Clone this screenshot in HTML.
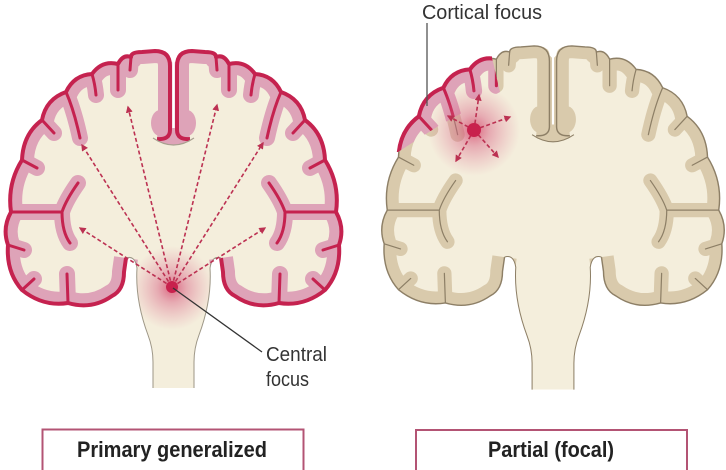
<!DOCTYPE html>
<html><head><meta charset="utf-8"><style>
html,body{margin:0;padding:0;background:#fff;}
svg{display:block;}
text{font-family:"Liberation Sans",Arial,sans-serif;}
</style></head><body>
<svg width="726" height="470" viewBox="0 0 726 470" xmlns="http://www.w3.org/2000/svg" xmlns:xlink="http://www.w3.org/1999/xlink">
<defs>
<path id="E" d="M157,139 Q170,140 170,130 L170,66 Q170,51 155,51 L142,52 Q131,52 131,57 Q123,54 118,64 Q102,60 92,74 Q74,75 66,92 Q46,99 42,120 Q23,134 22,160 Q7,184 11,212 Q2,228 8,245 Q6,272 22,290 Q43,307 68,303 Q92,310 112,296 Q124,290 124,272 L126,258"/>
<path id="SUL" d="M131,57 L130,70 M118,64 L118,90 M92,74 Q95,84 96,95 M66,92 Q74,110 80,138 M42,120 L54,133 M22,160 L37,168 M11,212 L62,212 M78,183 Q66,200 62,212 Q62,232 70,243 M8,245 L24,250 M22,290 L34,279 M68,303 L67,274"/>
<path id="STEMO" d="M126,258 Q135,255 137,268 Q135,300 148,335 Q153,348 153,362 L153,388"/>
<clipPath id="sil" clipPathUnits="userSpaceOnUse">
<path d="M173.5,64 L170,60 Q170,51 155,51 L142,52 Q131,52 131,57 Q123,54 118,64 Q102,60 92,74 Q74,75 66,92 Q46,99 42,120 Q23,134 22,160 Q7,184 11,212 Q2,228 8,245 Q6,272 22,290 Q43,307 68,303 Q92,310 112,296 Q124,290 124,272 L126,258 L140,250 L173.5,250 Z"/>
<path transform="matrix(-1 0 0 1 347 0)" d="M173.5,64 L170,60 Q170,51 155,51 L142,52 Q131,52 131,57 Q123,54 118,64 Q102,60 92,74 Q74,75 66,92 Q46,99 42,120 Q23,134 22,160 Q7,184 11,212 Q2,228 8,245 Q6,272 22,290 Q43,307 68,303 Q92,310 112,296 Q124,290 124,272 L126,258 L140,250 L173.5,250 Z"/>
<path d="M118,250 L126,258 Q135,255 137,268 Q135,300 148,335 Q153,348 153,362 L153,388 L194,388 L194,362 Q194,348 199,335 Q212,300 210,268 Q212,255 221,258 L229,250 Z"/>
</clipPath>
<clipPath id="focusRegion" clipPathUnits="userSpaceOnUse">
<polygon points="370,0 492,0 492,58 500,92 440,125 398,152 370,152"/>
</clipPath>
<radialGradient id="glow">
<stop offset="0" stop-color="#d2365f" stop-opacity="0.75"/>
<stop offset="0.35" stop-color="#d65a80" stop-opacity="0.45"/>
<stop offset="1" stop-color="#e07a9a" stop-opacity="0"/>
</radialGradient>
<marker id="ah" viewBox="0 0 10 10" refX="8" refY="5" markerWidth="7" markerHeight="7" orient="auto" markerUnits="userSpaceOnUse">
<path d="M0,0 L10,5 L0,10 z" fill="#bc3152"/>
</marker>
</defs>

<!-- LEFT BRAIN -->
<g>
  <g clip-path="url(#sil)">
    <rect x="0" y="40" width="347" height="360" fill="#f4eedc"/>
    <g fill="none" stroke="#dea3b8" stroke-width="24" stroke-linejoin="round">
      <use xlink:href="#E"/><use xlink:href="#E" transform="matrix(-1 0 0 1 347 0)"/>
    </g>
    <ellipse cx="160" cy="123" rx="9" ry="13" fill="#dea3b8"/>
    <ellipse cx="187" cy="123" rx="9" ry="13" fill="#dea3b8"/>
    <path d="M152,138 Q173.5,152 195,138 L195,175 L152,175 Z" fill="#f4eedc"/>
    <g fill="none" stroke="#dea3b8" stroke-width="16" stroke-linecap="round">
      <use xlink:href="#SUL"/><use xlink:href="#SUL" transform="matrix(-1 0 0 1 347 0)"/>
    </g>
    <g fill="none" stroke="#c5224f" stroke-width="3" stroke-linecap="round">
      <use xlink:href="#SUL"/><use xlink:href="#SUL" transform="matrix(-1 0 0 1 347 0)"/>
    </g>
    <circle cx="172" cy="288" r="42" fill="url(#glow)"/>
  </g>
  <g fill="none" stroke="#c5224f" stroke-width="4" stroke-linejoin="round">
    <use xlink:href="#E"/><use xlink:href="#E" transform="matrix(-1 0 0 1 347 0)"/>
  </g>
  <line x1="173.5" y1="50" x2="173.5" y2="128" stroke="#fff" stroke-width="2.5"/>
  <path d="M153,138 Q173.5,152 194,138" fill="none" stroke="#a89f8f" stroke-width="1.2"/>
  <g fill="none" stroke="#9d9686" stroke-width="1">
    <use xlink:href="#STEMO"/><use xlink:href="#STEMO" transform="matrix(-1 0 0 1 347 0)"/>
  </g>
</g>

<!-- RIGHT BRAIN -->
<g transform="matrix(1.02 0 0 1.02 376.03 -6.1)">
  <g clip-path="url(#sil)">
    <rect x="0" y="40" width="347" height="360" fill="#f4eedc"/>
    <g fill="none" stroke="#d9caac" stroke-width="24" stroke-linejoin="round">
      <use xlink:href="#E"/><use xlink:href="#E" transform="matrix(-1 0 0 1 347 0)"/>
    </g>
    <ellipse cx="160" cy="123" rx="9" ry="13" fill="#d9caac"/>
    <ellipse cx="187" cy="123" rx="9" ry="13" fill="#d9caac"/>
    <path d="M152,138 Q173.5,152 195,138 L195,175 L152,175 Z" fill="#f4eedc"/>
    <g fill="none" stroke="#d9caac" stroke-width="14" stroke-linecap="round">
      <use xlink:href="#SUL"/><use xlink:href="#SUL" transform="matrix(-1 0 0 1 347 0)"/>
    </g>
    <g fill="none" stroke="#8d7f66" stroke-width="1.2" stroke-linecap="round">
      <use xlink:href="#SUL"/><use xlink:href="#SUL" transform="matrix(-1 0 0 1 347 0)"/>
    </g>
  </g>
  <g fill="none" stroke="#8d7f66" stroke-width="1.4" stroke-linejoin="round">
    <use xlink:href="#E"/><use xlink:href="#E" transform="matrix(-1 0 0 1 347 0)"/>
  </g>
  <line x1="173.5" y1="50" x2="173.5" y2="128" stroke="#fff" stroke-width="2"/>
  <path d="M153,138 Q173.5,152 194,138" fill="none" stroke="#8d7f66" stroke-width="1"/>
  <g fill="none" stroke="#8d7f66" stroke-width="1">
    <use xlink:href="#STEMO"/><use xlink:href="#STEMO" transform="matrix(-1 0 0 1 347 0)"/>
  </g>
</g>

<!-- RIGHT BRAIN pink focal region -->
<g clip-path="url(#focusRegion)">
  <g transform="matrix(1.02 0 0 1.02 376.03 -6.1)">
    <g clip-path="url(#sil)">
      <g fill="none" stroke="#dea3b8" stroke-width="24" stroke-linejoin="round">
        <use xlink:href="#E"/>
      </g>
      <g fill="none" stroke="#dea3b8" stroke-width="16" stroke-linecap="round">
        <use xlink:href="#SUL"/>
      </g>
      <g fill="none" stroke="#c5224f" stroke-width="3" stroke-linecap="round">
        <use xlink:href="#SUL"/>
      </g>
    </g>
    <g fill="none" stroke="#c5224f" stroke-width="4" stroke-linejoin="round">
      <use xlink:href="#E"/>
    </g>
  </g>
</g>
<circle cx="474" cy="130" r="46" fill="url(#glow)"/>

<!-- arrows left -->
<g stroke="#bc3152" stroke-width="1.6" stroke-dasharray="4 2.5" fill="none" marker-end="url(#ah)">
  <line x1="172" y1="287" x2="80" y2="228"/>
  <line x1="172" y1="287" x2="82" y2="145"/>
  <line x1="172" y1="287" x2="128" y2="107"/>
  <line x1="172" y1="287" x2="217" y2="105"/>
  <line x1="172" y1="287" x2="263" y2="143"/>
  <line x1="172" y1="287" x2="265" y2="228"/>
</g>
<!-- arrows right -->
<g stroke="#bc3152" stroke-width="1.6" stroke-dasharray="4 2.5" fill="none" marker-end="url(#ah)">
  <line x1="474" y1="130" x2="479" y2="95"/>
  <line x1="474" y1="130" x2="510" y2="117"/>
  <line x1="474" y1="130" x2="498" y2="157"/>
  <line x1="474" y1="130" x2="456" y2="161"/>
  <line x1="474" y1="130" x2="448" y2="116"/>
</g>

<circle cx="172" cy="287" r="6" fill="#c8214d"/>
<circle cx="474" cy="130" r="7" fill="#c8214d"/>

<!-- connectors -->
<line x1="173" y1="288" x2="262" y2="352" stroke="#333" stroke-width="1.3"/>
<line x1="427" y1="23" x2="427" y2="106" stroke="#555" stroke-width="1.3"/>

<!-- labels -->
<text x="422" y="19" font-size="20" fill="#333" textLength="120" lengthAdjust="spacingAndGlyphs">Cortical focus</text>
<text x="266" y="361" font-size="20" fill="#333" textLength="61" lengthAdjust="spacingAndGlyphs">Central</text>
<text x="266" y="386" font-size="20" fill="#333" textLength="43" lengthAdjust="spacingAndGlyphs">focus</text>

<rect x="42.5" y="429.5" width="261" height="60" fill="#fff" stroke="#b35474" stroke-width="2"/>
<rect x="416" y="430" width="271" height="60" fill="#fff" stroke="#b35474" stroke-width="2"/>
<text x="77" y="457" font-size="22" font-weight="bold" fill="#222" textLength="190" lengthAdjust="spacingAndGlyphs">Primary generalized</text>
<text x="488" y="457" font-size="22" font-weight="bold" fill="#222" textLength="126" lengthAdjust="spacingAndGlyphs">Partial (focal)</text>
</svg>
</body></html>
